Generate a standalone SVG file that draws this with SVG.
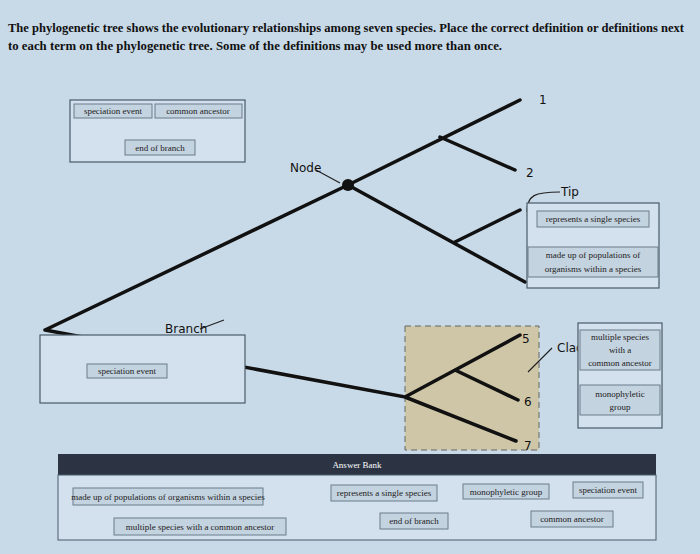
<svg xmlns="http://www.w3.org/2000/svg" width="700" height="554" viewBox="0 0 700 554">
<style>
.t{font-family:"Liberation Serif",serif;font-size:9px;fill:#222;text-anchor:middle}
.h{font-family:"Liberation Serif",serif;font-size:13px;font-weight:bold;fill:#111}
.s{font-family:"DejaVu Sans",sans-serif;font-size:12px;fill:#111}
.box{fill:#d3e1ee;stroke:#4a5a68;stroke-width:1.2}
.tag{fill:#c4d3e0;stroke:#6b7c8a;stroke-width:1}
.br{stroke:#111;stroke-width:3.5;fill:none;stroke-linecap:round}
</style>
<rect width="700" height="554" fill="#c8d9e7"/>
<text class="h" x="8" y="32" textLength="676" lengthAdjust="spacingAndGlyphs">The phylogenetic tree shows the evolutionary relationships among seven species. Place the correct definition or definitions next</text>
<text class="h" x="8" y="50" textLength="494" lengthAdjust="spacingAndGlyphs">to each term on the phylogenetic tree. Some of the definitions may be used more than once.</text>
<rect x="405" y="326" width="134" height="124" fill="#cfc6a8" stroke="#666" stroke-dasharray="6,4"/>
<g id="connectors">
<path class="br" d="M45 330 L348 185 L520 100 M440 137 L515 170 M348 185 L525 282 M455 242 L520 210 M45 330 L405 397 L520 335 M455 370 L518 400 M405 397 L516 441"/>
<path d="M316 170 L340 183 M200 329 L224 320 M527 212 C527 195 535 192 560 192 M528 372 L552 348" stroke="#222" stroke-width="1.2" fill="none"/>
<circle cx="348" cy="185" r="6" fill="#111"/>
</g>
<g id="labels">
<text class="s" x="290" y="172">Node</text>
<text class="s" x="165" y="333">Branch</text>
<text class="s" x="561" y="196">Tip</text>
<text class="s" x="557" y="352">Clad</text>
<text class="s" x="539" y="104">1</text><text class="s" x="526" y="177">2</text>
<text class="s" x="526" y="217">3</text><text class="s" x="522" y="343">5</text>
<text class="s" x="524" y="406">6</text><text class="s" x="524" y="450">7</text>
</g>
<g id="box-node">
<rect class="box" x="70" y="100" width="175" height="62"/>
<rect class="tag" x="74" y="104" width="78" height="14"/><text class="t" x="113" y="114">speciation event</text>
<rect class="tag" x="155" y="104" width="87" height="14"/><text class="t" x="198" y="114">common ancestor</text>
<rect class="tag" x="125" y="140" width="70" height="15"/><text class="t" x="160" y="151">end of branch</text>
</g>
<g id="box-branch">
<rect class="box" x="40" y="335" width="205" height="68"/>
<rect class="tag" x="87" y="364" width="80" height="14"/><text class="t" x="127" y="374">speciation event</text>
</g>
<g id="box-tip">
<rect class="box" x="527" y="203" width="132" height="85"/>
<rect class="tag" x="537" y="211" width="112" height="16"/><text class="t" x="593" y="222">represents a single species</text>
<rect class="tag" x="528" y="247" width="130" height="30"/><text class="t" x="593" y="258">made up of populations of</text><text class="t" x="593" y="272">organisms within a species</text>
</g>
<g id="box-clade">
<rect class="box" x="578" y="323" width="84" height="105"/>
<rect class="tag" x="580" y="330" width="80" height="40"/><text class="t" x="620" y="340">multiple species</text><text class="t" x="620" y="353">with a</text><text class="t" x="620" y="366">common ancestor</text>
<rect class="tag" x="580" y="385" width="80" height="30"/><text class="t" x="620" y="397">monophyletic</text><text class="t" x="620" y="410">group</text>
</g>
<g id="answer-bank">
<rect x="58" y="454" width="598" height="21" fill="#2c3444"/>
<text class="t" x="357" y="468" style="fill:#fff">Answer Bank</text>
<rect x="58" y="475" width="598" height="65" fill="#d3e1ee" stroke="#4a5a68"/>
<rect class="tag" x="73" y="488" width="190" height="17"/><text class="t" x="168" y="500">made up of populations of organisms within a species</text>
<rect class="tag" x="331" y="485" width="106" height="16"/><text class="t" x="384" y="496">represents a single species</text>
<rect class="tag" x="463" y="484" width="86" height="15"/><text class="t" x="506" y="495">monophyletic group</text>
<rect class="tag" x="573" y="482" width="70" height="16"/><text class="t" x="608" y="493">speciation event</text>
<rect class="tag" x="114" y="518" width="172" height="17"/><text class="t" x="200" y="530">multiple species with a common ancestor</text>
<rect class="tag" x="380" y="513" width="68" height="16"/><text class="t" x="414" y="524">end of branch</text>
<rect class="tag" x="531" y="511" width="82" height="16"/><text class="t" x="572" y="522">common ancestor</text>
</g>
</svg>
